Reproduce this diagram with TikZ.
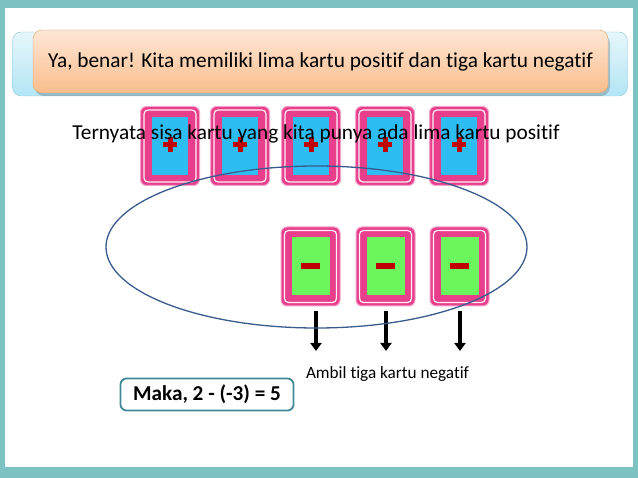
\documentclass[tikz,border=0pt]{standalone}
\usepackage{fontspec}
\setmainfont{Carlito}[Ligatures={NoCommon}]
\usetikzlibrary{arrows.meta,positioning}
\definecolor{frameteal}{HTML}{7DC3C4}
\definecolor{barlight}{HTML}{E6F6FB}
\definecolor{bardark}{HTML}{B3E5F5}
\definecolor{baredge}{HTML}{8CC9DA}
\definecolor{notelight}{HTML}{FEE7D6}
\definecolor{notedark}{HTML}{F9BD8C}
\definecolor{noteedge}{HTML}{E9A46A}
\definecolor{cardpink}{HTML}{E83E8C}
\definecolor{cardrim}{HTML}{F5A3C8}
\definecolor{faceblue}{HTML}{2DBDF2}
\definecolor{facegreen}{HTML}{6CF65E}
\definecolor{signred}{HTML}{C00000}
\definecolor{ringblue}{HTML}{3A5B8E}
\definecolor{boxteal}{HTML}{3F8A9A}
\tikzset{cardout/.style={draw=cardrim, line width=1pt, fill=cardpink, rounded corners=6pt, minimum width=59pt, minimum height=79pt, inner sep=0pt}, cardline/.style={draw=white!85!cardrim, line width=1.2pt, rounded corners=4pt, minimum width=52pt, minimum height=72pt, inner sep=0pt}, posface/.style={fill=faceblue, minimum width=36pt, minimum height=58pt, inner sep=0pt}, negface/.style={fill=facegreen, minimum width=38pt, minimum height=58pt, inner sep=0pt}, signbar/.style={fill=signred, inner sep=0pt}, drop/.style={-{Triangle[length=8pt, width=11pt]}, line width=3.6pt}, txt/.style={font=\fontsize{21.3}{24}\selectfont}}

\begin{document}
\begin{tikzpicture}[x=1pt, y=-1pt]
\useasboundingbox (0,0) rectangle (638,478);
\fill[frameteal] (0,0) rectangle (638,478);
\fill[white] (5,8) rectangle (633,467);
% header bar
\node[draw=baredge, top color=barlight, bottom color=bardark, rounded corners=9pt, minimum width=615pt, minimum height=64pt] (bar) at (320,64) {};
\fill[black, opacity=.18, rounded corners=9pt] (35,34) rectangle (610,96);
\node[draw=noteedge, top color=notelight, bottom color=notedark, rounded corners=9pt, minimum width=575pt, minimum height=63pt, txt] (note) at (320.5,61.5) {Ya, benar! Kita memiliki lima kartu positif dan tiga kartu negatif};
% positive cards
\foreach \x [count=\i] in {170,240,311,385,459} {
  \node[cardout] (pc\i) at (\x,146) {};
  \node[cardline] at (pc\i) {};
  \node[posface] (pf\i) at (pc\i) {};
  \node[signbar, minimum width=14pt, minimum height=5pt] at ([yshift=1pt]pf\i.center) {};
  \node[signbar, minimum width=5pt, minimum height=15pt] at ([yshift=1pt]pf\i.center) {};
}
\node[txt] (rest) at (316,134) {Ternyata sisa kartu yang kita punya ada lima kartu positif};
% negative cards
\foreach \x [count=\i] in {310.5,385.5,459.5} {
  \node[cardout] (nc\i) at (\x,266.5) {};
  \node[cardline] at (nc\i) {};
  \node[negface] (nf\i) at (nc\i) {};
  \node[signbar, minimum width=19pt, minimum height=6pt] at (nf\i.center) {};
}
% arrows
\foreach \x [count=\i] in {316,386,460} {
  \coordinate (top\i) at (\x,311);
  \coordinate (bot\i) at (\x,351);
  \draw[drop] (top\i) -- (bot\i);
}
\draw[ringblue, line width=1.3pt] (316.5,247) ellipse [x radius=210.5, y radius=81];
\node[font=\fontsize{17.2}{20}\selectfont] (take) at (387.5,374) {Ambil tiga kartu negatif};
\node[draw=boxteal, line width=1.8pt, rounded corners=6pt, minimum width=173pt, minimum height=32pt, font=\fontsize{21.2}{24}\selectfont\bfseries] (result) at (207,394.5) {Maka, 2 - (-3) = 5};
\end{tikzpicture}
\end{document}
